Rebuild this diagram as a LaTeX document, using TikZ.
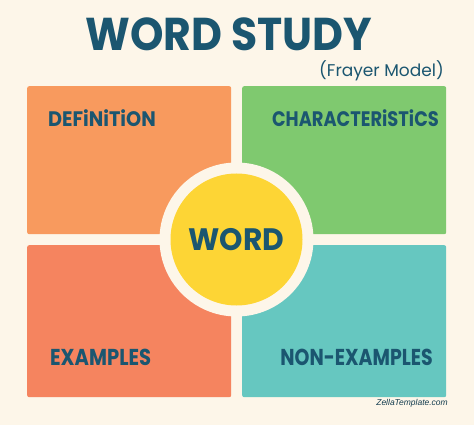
\documentclass[tikz,border=0pt]{standalone}
\usepackage{fontspec}
\setmainfont{Poppins}
\newfontfamily\creditfont{Liberation Sans}
\usetikzlibrary{positioning}

\definecolor{paper}{HTML}{FDF6E9}
\definecolor{ink}{HTML}{1B5670}
\definecolor{defcol}{HTML}{F89A5E}
\definecolor{charcol}{HTML}{7FC96F}
\definecolor{excol}{HTML}{F5845F}
\definecolor{nonexcol}{HTML}{66C7C0}
\definecolor{wordcol}{HTML}{FDD535}

\tikzset{
  quad/.style={rectangle,rounded corners=2pt,inner sep=0pt,anchor=north west,
    minimum width=204pt,minimum height=148pt},
  qlabel/.style={text=ink,font=\bfseries\fontsize{21}{21}\selectfont,inner sep=0pt,xscale=0.85},
}

\begin{document}
\begin{tikzpicture}[x=1pt,y=-1pt]
  \fill[paper] (0,0) rectangle (474,425);
  \useasboundingbox (0,0) rectangle (474,425);

  % title
  \node[text=ink,font=\bfseries\fontsize{46}{46}\selectfont,inner sep=0pt,xscale=0.925] (title) at (229,34) {WORD STUDY};
  \node[text=ink,font=\fontsize{17}{17}\selectfont,inner sep=0pt,anchor=east] (subtitle) at (444,71) {(Frayer Model)};

  % four quadrants
  \node[quad,fill=defcol] (def) at (27,86) {};
  \node[quad,fill=charcol] (char) at (242,86) {};
  \node[quad,fill=excol,minimum height=152pt] (ex) at (27,245) {};
  \node[quad,fill=nonexcol,minimum height=152pt] (nonex) at (242,245) {};

  \node[qlabel,anchor=west,xscale=1.08] (deflbl) at (48,118) {DEFiNiTiON};
  \node[qlabel,anchor=east] (charlbl) at (439,118) {CHARACTERiSTiCS};
  \node[qlabel,anchor=west,font=\bfseries\fontsize{23}{23}\selectfont] (exlbl) at (50,357) {EXAMPLES};
  \node[qlabel,anchor=east,font=\bfseries\fontsize{23}{23}\selectfont,xscale=0.97] (nonexlbl) at (433,357) {NON-EXAMPLES};

  % centre word
  \node[circle,fill=paper,minimum size=154pt,inner sep=0pt] (ring) at (236.5,239.5) {};
  \node[circle,fill=wordcol,minimum size=132pt,inner sep=0pt] (word) at (ring.center) {};
  \node[text=ink,font=\bfseries\fontsize{31}{31}\selectfont,inner sep=0pt,xscale=0.96] (wordlbl) at (word.center) {WORD};

  \node[text=ink!70!black,font=\creditfont\itshape\fontsize{8.5}{8.5}\selectfont,inner sep=0pt,anchor=east] (credit) at (448,403) {ZellaTemplate.com};
\end{tikzpicture}
\end{document}
